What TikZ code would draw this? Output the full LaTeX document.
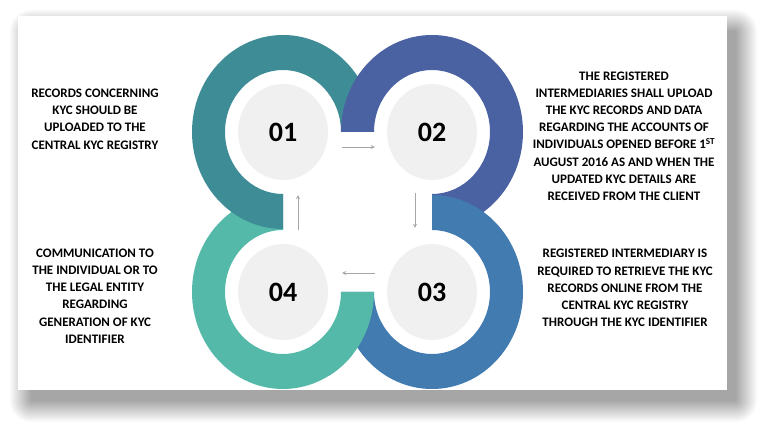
\documentclass[tikz,border=0pt]{standalone}
\usepackage{fontspec}
\setmainfont{Carlito}
\usepackage{xcolor}
\usepackage{tikz}
\usetikzlibrary{arrows,shapes.geometric}

\definecolor{ringA}{HTML}{3E8C96}
\definecolor{ringB}{HTML}{4A62A2}
\definecolor{ringC}{HTML}{427BB0}
\definecolor{ringD}{HTML}{54B9A8}
\definecolor{disk}{HTML}{F0F0F0}
\definecolor{flow}{HTML}{A6A6A6}

\begin{document}
\begin{tikzpicture}[x=1pt, y=1pt,
    disc/.style={ellipse, fill=disk, minimum width=90pt, minimum height=96pt,
        inner sep=0pt, font=\bfseries\fontsize{28}{30}\selectfont},
    note/.style={align=center, font=\bfseries\fontsize{13}{17.2}\selectfont},
    flowarrow/.style={draw=flow, line width=0.8pt, -stealth}]
                  \useasboundingbox (0,0) rectangle (768,430);
                  \fill[white] (0,0) rectangle (768,430);
                  \foreach \i in {1,...,30}
                  \fill[black, opacity=0.013, rounded corners=0.75*\i pt] 
                  (32-0.75*\i,30-0.75*\i) rectangle (735+0.75*\i,398+0.75*\i);
                  \fill[white] (18,40) rectangle (727,414);
                  \foreach \cx/\cy/\s/\e/\c in {283/138/90/320/ringD, 
                      283/298/0/270/ringA, 432/298/-90/180/ringB, 
                      432/138/-180/90/ringC, 283/138/300/360/ringD}
                  \fill[\c] (\cx,\cy) ++(\s:91pt and 97pt) arc[start angle=\s, 
                  end angle=\e, x radius=91pt, y radius=97pt] -- ++(\e:-33pt and 
                  -35pt) arc[start angle=\e, end angle=\s, x radius=58pt, 
                  y radius=62pt] -- cycle;
                  \node[disc] (one) at (283,298) {01};
                  \node[disc] (two) at (432,298) {02};
                  \node[disc] (three) at (432,138) {03};
                  \node[disc] (four) at (283,138) {04};
                  \draw[flowarrow] ([shift={(14,-15)}]one.east) -- 
                  ([shift={(-12,-15)}]two.west);
                  \draw[flowarrow] ([shift={(-17,-13)}]two.south) -- 
                  ([shift={(-17,16)}]three.north);
                  \draw[flowarrow] ([shift={(-12,19)}]three.west) -- 
                  ([shift={(14,19)}]four.east);
                  \draw[flowarrow] ([shift={(15,14)}]four.north) -- 
                  ([shift={(15,-15)}]one.south);
                  \node[note] (txtone) at (95,311) {RECORDS CONCERNING\\KYC 
                      SHOULD BE\\UPLOADED TO THE\\CENTRAL KYC REGISTRY};
                  \node[note] (txttwo) at (624,294) {THE REGISTERED\\
                      INTERMEDIARIES SHALL UPLOAD\\THE KYC RECORDS AND DATA\\
                      REGARDING THE ACCOUNTS OF\\INDIVIDUALS OPENED BEFORE 
                      1\textsuperscript{ST}\\AUGUST 2016 AS AND WHEN THE\\
                      UPDATED KYC DETAILS ARE\\RECEIVED FROM THE CLIENT};
                  \node[note] (txtthree) at (625,142) {REGISTERED INTERMEDIARY 
                      IS\\REQUIRED TO RETRIEVE THE KYC\\RECORDS ONLINE FROM THE\\
                      CENTRAL KYC REGISTRY\\THROUGH THE KYC IDENTIFIER};
                  \node[note] (txtfour) at (95,134) {COMMUNICATION TO\\THE 
                      INDIVIDUAL OR TO\\THE LEGAL ENTITY\\REGARDING\\GENERATION 
                      OF KYC\\IDENTIFIER};
              \end{tikzpicture}
\end{document}
